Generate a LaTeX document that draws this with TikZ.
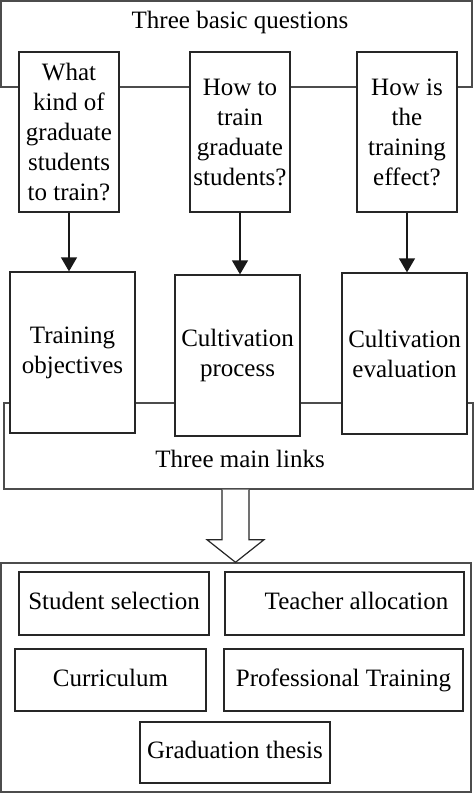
\documentclass[tikz,border=0pt]{standalone}
\usepackage{fontspec}
\setmainfont{Liberation Serif}
\usetikzlibrary{arrows.meta,calc}
\begin{document}
\begin{tikzpicture}[x=1pt,y=-1pt,
  line width=1.3pt,
  every node/.style={font=\fontsize{25}{30}\selectfont},
  frame/.style={draw=black!70, line width=1.4pt, inner sep=0pt},
  qbox/.style={draw=black!85, fill=white, minimum width=100pt, minimum height=160pt, align=center, inner sep=0pt},
  lbox/.style={draw=black!85, fill=white, minimum width=125pt, minimum height=161pt, align=center, inner sep=0pt},
  ibox/.style={draw=black!85, fill=white, minimum height=62pt, inner sep=0pt, text height=17pt, text depth=5pt},
  lbl/.style={inner sep=0pt, anchor=base},
  flow/.style={draw=black!90, -{Triangle[width=16pt,length=14pt]}}
]
\useasboundingbox (0,0) rectangle (474,793);
\fill[white] (0,0) rectangle (474,793);

% top frame
\node[frame, minimum width=471pt, minimum height=86pt] (basic) at (236.5,44) {};
\node[lbl] (basicl) at (240,28) {Three basic questions};

\node[qbox] (q1) at (69,132) {What\\kind of\\graduate\\students\\to train?};
\node[qbox] (q2) at (240,132) {How to\\train\\graduate\\students?};
\node[qbox] (q3) at (407,132) {How is\\the\\training\\effect?};

% middle frame
\node[frame, minimum width=469pt, minimum height=86pt] (links) at (238.5,446) {};
\node[lbl] (linksl) at (240,467) {Three main links};

\node[lbox] (l1) at (72.5,352.5) {Training\\objectives};
\node[lbox] (l2) at (237.5,355.5) {Cultivation\\process};
\node[lbox] (l3) at (404.5,353.5) {Cultivation\\evaluation};

\draw[flow] (q1.south) -- (q1.south |- l1.north);
\draw[flow] (q2.south) -- (q2.south |- l2.north);
\draw[flow] (q3.south) -- (q3.south |- l3.north);

% bottom frame
\node[frame, minimum width=470pt, minimum height=229pt] (content) at (236,677.5) {};

% block arrow
\coordinate (ba) at ($(links.south)+(-3,0)$);
\draw[draw=black!85, fill=white, line width=1.2pt]
  ($(ba)+(-13.5,0)$) -- ($(ba)+(-13.5,50)$) -- ($(ba)+(-28.5,50)$)
  -- (ba |- content.north) -- ($(ba)+(28.5,50)$) -- ($(ba)+(13.5,50)$)
  -- ($(ba)+(13.5,0)$);

\node[ibox, minimum width=190pt, minimum height=63pt] (sel) at (114,603.5) {Student selection};
\node[ibox, minimum width=239pt, minimum height=63pt] (tea) at (344.5,603.5) {\hspace*{24pt}Teacher allocation};
\node[ibox, minimum width=191pt] (cur) at (110.5,680) {Curriculum};
\node[ibox, minimum width=239pt] (pro) at (343.5,680) {Professional Training};
\node[ibox, minimum width=190pt, minimum height=61pt] (gra) at (235,752.5) {Graduation thesis};
\end{tikzpicture}
\end{document}
